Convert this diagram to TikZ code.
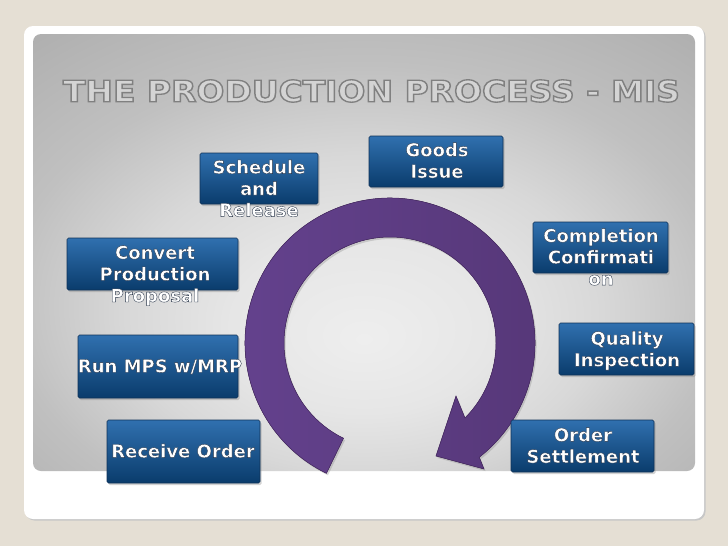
\documentclass[tikz,border=0pt]{standalone}
\usepackage{fontspec}
\newfontfamily\boxfont{DejaVu Sans}
\usetikzlibrary{shadows,calc}
\makeatletter
\def\txo#1#2{\pgfsys@invoke{#1 RG #2 w 2 Tr}}
\makeatother
\newcommand\vs{\rule[-4.5pt]{0pt}{17pt}}
\definecolor{bgbeige}{RGB}{229,223,212}
\definecolor{pA}{RGB}{238,238,238}
\definecolor{pB}{RGB}{230,230,230}
\definecolor{pC}{RGB}{216,216,216}
\definecolor{pD}{RGB}{192,192,192}
\definecolor{pE}{RGB}{180,180,180}
\definecolor{pF}{RGB}{164,164,164}
\definecolor{boxtop}{RGB}{48,112,175}
\definecolor{boxbot}{RGB}{10,60,108}
\definecolor{boxedge}{RGB}{16,50,88}
\definecolor{arrowL}{RGB}{100,66,142}
\definecolor{arrowR}{RGB}{86,55,120}
\definecolor{arrowedge}{RGB}{72,42,100}
\definecolor{titlegray}{RGB}{212,212,212}
\pgfdeclareradialshading{panelshade}{\pgfpoint{0bp}{-10bp}}{color(0bp)=(pA); color(10bp)=(pB); color(18bp)=(pC); color(27bp)=(pD); color(35bp)=(pE); color(45bp)=(pF); color(60bp)=(pF)}
\tikzset{
  bluebox/.style={draw=boxedge, line width=0.6pt, top color=boxtop, bottom color=boxbot,
    rounded corners=1.5pt, inner sep=0pt,
    drop shadow={opacity=0.35, shadow xshift=1.5pt, shadow yshift=-2pt}},
  boxtext/.style={font=\boxfont\bfseries\fontsize{18}{21.5}\selectfont, text=white,
    align=center, inner sep=0pt},
  titletext/.style={font=\boxfont\bfseries, text=titlegray, inner sep=0pt},
}
\begin{document}
\begin{tikzpicture}[x=1pt,y=-1pt]
\useasboundingbox (0,0) rectangle (728,546);
\fill[bgbeige] (0,0) rectangle (728,546);
% frame
\fill[black!22, rounded corners=9pt] (25.5,27.5) rectangle (705.5,520.5);
\fill[white, rounded corners=9pt] (24,26) rectangle (704,519);
\shade[shading=panelshade, rounded corners=8pt] (33,34) rectangle (695,471);
% title
\node[titletext] (title) at (371.5,91) {\resizebox{617pt}{22pt}{\txo{0.5 0.5 0.5}{0.45}THE PRODUCTION PROCESS - MIS}};
% circular arrow
\coordinate (C) at (390,343);
\fill[left color=arrowL, right color=arrowR, draw=arrowedge, line width=0.5pt,
  drop shadow={opacity=0.3, shadow xshift=1.5pt, shadow yshift=-2pt}]
  ($(C)+(116:145)$) arc[start angle=116, end angle=412, radius=145]
  -- (484,469) -- (436,456) -- (456,396) -- ($(C)+(405:106)$)
  arc[start angle=405, end angle=116, radius=106] -- cycle;
% boxes
\node[bluebox, minimum width=118pt, minimum height=51pt] (bSched) at (259,178.5) {};
\node[bluebox, minimum width=134pt, minimum height=51pt] (bGoods) at (436,161.5) {};
\node[bluebox, minimum width=171pt, minimum height=52pt] (bConv) at (152.5,264) {};
\node[bluebox, minimum width=135pt, minimum height=51pt] (bComp) at (600.5,247.5) {};
\node[bluebox, minimum width=160pt, minimum height=63pt] (bRun) at (158,366.5) {};
\node[bluebox, minimum width=153pt, minimum height=63pt] (bRecv) at (183.5,451.5) {};
\node[bluebox, minimum width=135pt, minimum height=52pt] (bQual) at (626.5,349) {};
\node[bluebox, minimum width=143pt, minimum height=52pt] (bOrd) at (582.5,446) {};
% texts
\node[boxtext] (tSched) at (259,190.5) {\txo{0.15 0.2 0.28}{0.35}\vs Schedule\\\vs and\\\vs Release};
\node[boxtext] (tGoods) at (437,162.5) {\txo{0.15 0.2 0.28}{0.35}\vs Goods\\\vs Issue};
\node[boxtext] (tConv) at (155,276) {\txo{0.15 0.2 0.28}{0.35}\vs Convert\\\vs Production\\\vs Proposal};
\node[boxtext] (tComp) at (601,259) {\txo{0.15 0.2 0.28}{0.35}\vs Completion\\\vs Confirmati\\\vs on};
\node[boxtext] (tRun) at (160,368) {\txo{0.15 0.2 0.28}{0.35}\vs Run MPS w/MRP};
\node[boxtext] (tRecv) at (183,453) {\txo{0.15 0.2 0.28}{0.35}\vs Receive Order};
\node[boxtext] (tQual) at (627,351) {\txo{0.15 0.2 0.28}{0.35}\vs Quality\\\vs Inspection};
\node[boxtext] (tOrd) at (583,447.5) {\txo{0.15 0.2 0.28}{0.35}\vs Order\\\vs Settlement};
\end{tikzpicture}
\end{document}
